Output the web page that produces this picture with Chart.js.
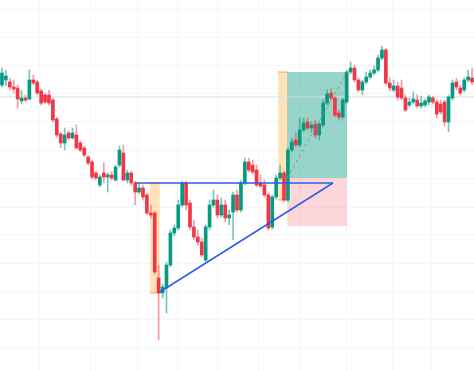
<!DOCTYPE html>
<html>
<head>
<meta charset="utf-8">
<script src="https://cdn.jsdelivr.net/npm/chart.js@4.4.1/dist/chart.umd.min.js"></script>
<style>
  html, body { margin: 0; padding: 0; background: #ffffff; }
  #wrap { width: 474px; height: 370px; }
</style>
</head>
<body>
<div id="wrap"><canvas id="priceChart"></canvas></div>
<script>
// ==========================================
// DATA
// ==========================================

const opens = [285,290,288,283,282,269,272,271,290,288,279,275,275,270,251,236,227,237,232,235,
  227,222,213,208,197,185,197,193,195,190,205,217,190,197,187,178,182,175,157,157,
  92,77,82,105,137,142,165,187,167,143,133,128,110,143,165,170,155,165,152,158,
  175,160,187,208,205,200,187,185,175,143,173,192,197,170,220,230,225,240,248,242,
  246,235,245,267,277,272,257,253,268,298,302,290,280,288,293,297,300,312,320,287,
  280,284,282,272,265,268,270,264,265,268,272,268,266,268,248,272,288,282,280,290,292];

const closes = [297,294,283,281,271,272,270,290,287,277,267,268,267,250,235,227,235,232,237,222,
  220,215,207,193,192,193,193,195,192,203,220,190,197,187,178,182,173,157,155,98,
  77,83,105,137,142,165,187,165,143,133,128,115,143,165,170,155,165,152,155,175,
  160,187,208,200,198,185,184,175,142,173,192,197,170,220,228,225,240,247,242,245,
  235,246,267,276,272,255,253,270,298,302,290,280,288,293,297,300,312,320,287,282,
  284,273,272,260,268,271,264,267,269,273,268,256,258,248,273,287,283,277,290,293,288];

const highs = [302,300,292,290,285,280,275,300,295,290,281,277,280,272,253,238,242,239,242,245,
  229,224,215,210,199,195,207,197,198,205,224,225,200,199,189,186,185,177,165,159,
  105,86,108,140,145,170,189,189,170,150,140,132,145,170,180,175,172,170,160,178,
  180,190,212,212,210,205,195,190,177,175,195,205,199,222,232,237,252,252,252,248,
  250,248,270,280,282,274,260,272,300,308,305,292,290,298,300,304,315,324,322,292,
  290,288,290,275,272,278,275,274,271,275,274,270,270,270,275,290,292,285,292,300,302];

const lows = [283,284,280,277,262,266,268,270,285,275,265,266,265,248,233,222,220,230,231,221,
  218,213,205,191,190,183,187,178,190,189,203,189,187,185,165,176,170,155,152,96,
  30,72,57,103,134,140,163,160,140,130,125,113,108,140,163,152,153,148,145,130,
  158,158,185,198,196,183,182,173,140,141,171,190,168,168,218,223,223,238,240,238,
  232,230,243,265,270,253,250,251,266,296,288,278,275,286,291,295,298,310,285,279,
  278,270,270,258,263,266,262,262,263,265,266,252,256,244,238,270,280,275,278,288,285];

// price range and faint grid positions (bar index / price)
const priceRange = [0, 370];
const gridPrices = [23, 51, 79, 107, 135, 163, 192, 220, 248, 276, 304, 332, 360];
const gridBars = [9.7, 22.7, 34.7, 44.9, 54.9, 65.6, 76.0, 88.0, 99.8, 109.7];

// drawings: ascending triangle, highlight bands, long position tool
const resistance = [{ x: 34.0, y: 187 }, { x: 84.5, y: 187 }];
const support = [{ x: 40.3, y: 78 }, { x: 84.5, y: 187 }];
const bandOne = { from: 37.8, to: 40.3, top: 187, bottom: 77 };
const bandTwo = { from: 70.5, to: 73.0, top: 298, bottom: 170 };
const position = { from: 72.8, to: 88.1, target: 298, entry: 192, stop: 144 };
const levelLine = 273;

// ==========================================
// COLOURS
// ==========================================

const UP = '#089981';
const DOWN = '#f23645';
const UP_WICK = 'rgba(8,153,129,0.55)';
const DOWN_WICK = 'rgba(242,54,69,0.5)';
const GRID = '#f6f7f9';

const isUp = opens.map((o, i) => closes[i] >= o);
const bars = opens.map((_, i) => i);

// helper: two-point horizontal edge for filled boxes
const edge = (from, to, y) => [{ x: from, y: y }, { x: to, y: y }];

const boxPair = (from, to, top, bottom, fillColor, lineColor, order) => ([
  {
    type: 'line',
    data: edge(from, to, top),
    borderColor: lineColor,
    borderWidth: lineColor ? 1 : 0,
    backgroundColor: fillColor,
    fill: '+1',
    pointRadius: 0,
    order: order
  },
  {
    type: 'line',
    data: edge(from, to, bottom),
    borderColor: lineColor,
    borderWidth: lineColor ? 1 : 0,
    pointRadius: 0,
    fill: false,
    order: order
  }
]);

// ==========================================
// CHART
// ==========================================

const ctx = document.getElementById('priceChart').getContext('2d');

new Chart(ctx, {
  type: 'bar',
  data: {
    datasets: [
      // triangle lines
      {
        type: 'line',
        data: resistance,
        borderColor: '#2f5bea',
        borderWidth: 1.5,
        pointRadius: 0,
        fill: false,
        order: 0
      },
      {
        type: 'line',
        data: support,
        borderColor: '#2f5bea',
        borderWidth: 1.5,
        pointRadius: 0,
        fill: false,
        order: 0
      },
      // position tool dashed path
      {
        type: 'line',
        data: [{ x: position.from, y: position.entry }, { x: position.to, y: position.target }],
        borderColor: '#8a8d96',
        borderWidth: 1,
        borderDash: [3, 3],
        pointRadius: 0,
        fill: false,
        order: 1
      },
      // candle bodies
      {
        data: bars.map(i => ({ x: i, y: [opens[i], closes[i]] })),
        backgroundColor: bars.map(i => isUp[i] ? UP : DOWN),
        barThickness: 3,
        minBarLength: 1,
        grouped: false,
        order: 2
      },
      // candle wicks
      {
        data: bars.map(i => ({ x: i, y: [lows[i], highs[i]] })),
        backgroundColor: bars.map(i => isUp[i] ? UP_WICK : DOWN_WICK),
        barThickness: 1,
        grouped: false,
        order: 3
      },
      // boxes
      ...boxPair(position.from, position.to, position.target, position.entry, 'rgba(8,153,129,0.42)', null, 5),
      ...boxPair(position.from, position.to, position.entry, position.stop, 'rgba(242,54,69,0.2)', null, 5),
      ...boxPair(bandOne.from, bandOne.to, bandOne.top, bandOne.bottom, 'rgba(255,152,0,0.28)', 'rgba(240,150,40,0.8)', 5),
      ...boxPair(bandTwo.from, bandTwo.to, bandTwo.top, bandTwo.bottom, 'rgba(255,152,0,0.28)', 'rgba(240,150,40,0.8)', 5),
      // faint level line
      {
        type: 'line',
        data: edge(-0.5, opens.length - 0.5, levelLine),
        borderColor: '#cde2e8',
        borderWidth: 1,
        pointRadius: 0,
        fill: false,
        order: 6
      }
    ]
  },
  options: {
    responsive: true,
    maintainAspectRatio: false,
    animation: false,
    events: [],
    layout: { padding: 0 },
    plugins: {
      legend: { display: false },
      tooltip: { enabled: false },
      filler: { drawTime: 'beforeDatasetsDraw' }
    },
    scales: {
      x: {
        type: 'linear',
        min: -0.5,
        max: opens.length - 0.5,
        offset: false,
        afterBuildTicks: axis => { axis.ticks = gridBars.map(v => ({ value: v })); },
        ticks: { display: false },
        grid: { color: GRID, drawTicks: false, offset: false },
        border: { display: false }
      },
      y: {
        min: priceRange[0],
        max: priceRange[1],
        afterBuildTicks: axis => { axis.ticks = gridPrices.map(v => ({ value: v })); },
        ticks: { display: false },
        grid: { color: GRID, drawTicks: false },
        border: { display: false }
      }
    }
  }
});
</script>
</body>
</html>
